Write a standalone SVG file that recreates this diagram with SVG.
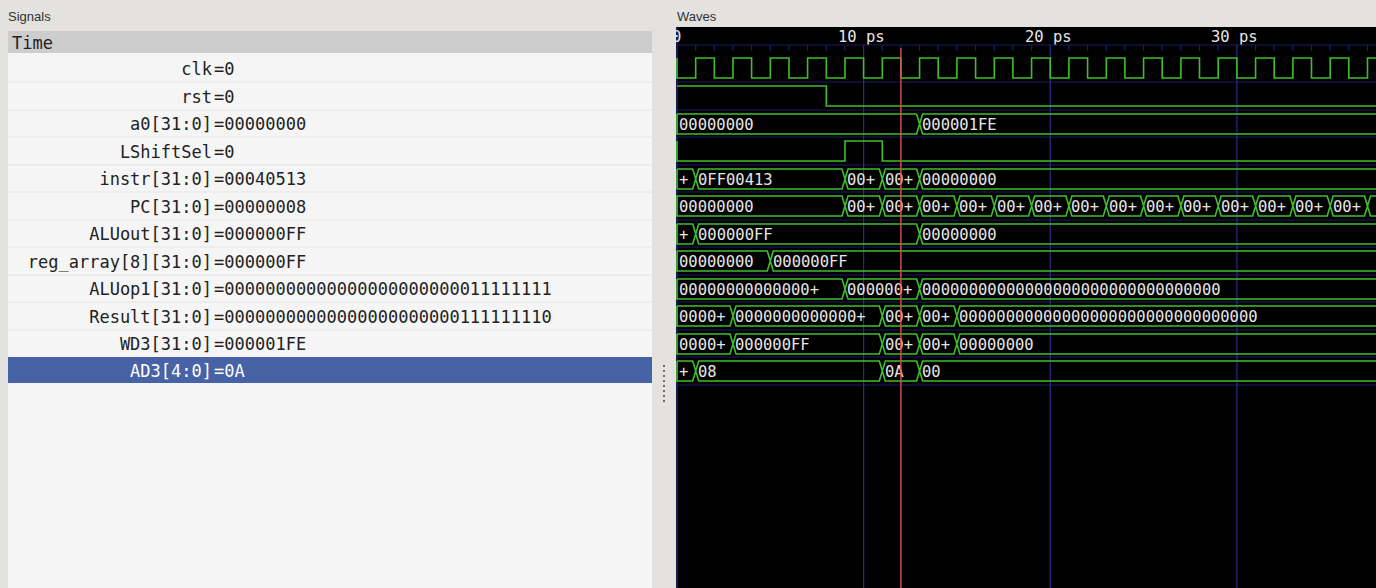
<svg xmlns="http://www.w3.org/2000/svg" width="1376" height="588" viewBox="0 0 1376 588">
<style>
.lbl{font-family:"DejaVu Sans Mono",monospace;font-size:17px;fill:#222}
.hdr{font-family:"Liberation Sans",Arial,sans-serif;font-size:13px;fill:#333}
.w{fill:none;stroke:#3fbf2a;stroke-width:1.6}
.wt{font-family:"DejaVu Sans Mono",monospace;font-size:15.5px;fill:#e6e6e6}
.sep{stroke:#1c1c66;stroke-width:1.2}
.grid{stroke:#2a2a8a;stroke-width:1.2}
.lsep{stroke:#e4e4e4;stroke-width:1}
</style>
<rect width="1376" height="588" fill="#e3e2df"/>
<text class="hdr" x="8" y="21">Signals</text>
<text class="hdr" x="677" y="21">Waves</text>
<g id="signals">
<rect x="8" y="31" width="644" height="557" fill="#f5f5f5"/>
<rect x="8" y="31" width="644" height="22" fill="#cdcdcd"/>
<text class="lbl" x="12" y="49">Time</text>
<g class="lsep">
<line x1="8" y1="82" x2="652" y2="82"/><line x1="8" y1="110" x2="652" y2="110"/><line x1="8" y1="137" x2="652" y2="137"/><line x1="8" y1="165" x2="652" y2="165"/><line x1="8" y1="192" x2="652" y2="192"/><line x1="8" y1="220" x2="652" y2="220"/><line x1="8" y1="247" x2="652" y2="247"/><line x1="8" y1="275" x2="652" y2="275"/><line x1="8" y1="302" x2="652" y2="302"/><line x1="8" y1="330" x2="652" y2="330"/>
</g>
<rect x="8" y="357" width="644" height="26" fill="#4862a6"/>
<g class="lbl" text-anchor="end">
<text x="212" y="75">clk</text><text x="212" y="103">rst</text><text x="212" y="130">a0[31:0]</text><text x="212" y="158">LShiftSel</text><text x="212" y="185">instr[31:0]</text><text x="212" y="213">PC[31:0]</text><text x="212" y="240">ALUout[31:0]</text><text x="212" y="268">reg_array[8][31:0]</text><text x="212" y="295">ALUop1[31:0]</text><text x="212" y="323">Result[31:0]</text><text x="212" y="350">WD3[31:0]</text><text x="212" y="377" fill="#fff">AD3[4:0]</text>
</g>
<g class="lbl">
<text x="214" y="75">=0</text><text x="214" y="103">=0</text><text x="214" y="130">=00000000</text><text x="214" y="158">=0</text><text x="214" y="185">=00040513</text><text x="214" y="213">=00000008</text><text x="214" y="240">=000000FF</text><text x="214" y="268">=000000FF</text><text x="214" y="295">=00000000000000000000000011111111</text><text x="214" y="323">=00000000000000000000000111111110</text><text x="214" y="350">=000001FE</text><text x="214" y="377" fill="#fff">=0A</text>
</g>
<g fill="#444"><circle cx="664" cy="366" r="1"/><circle cx="664" cy="371" r="1"/><circle cx="664" cy="376" r="1"/><circle cx="664" cy="381" r="1"/><circle cx="664" cy="386" r="1"/><circle cx="664" cy="391" r="1"/><circle cx="664" cy="396" r="1"/><circle cx="664" cy="401" r="1"/></g>
</g>
<g id="waves">
<rect x="676" y="27" width="700" height="561" fill="#000"/>
<line x1="677" y1="27" x2="677" y2="588" class="grid"/>
<g class="wt" fill="#ddd"><text x="672" y="42">0</text><text x="838" y="42">10 ps</text><text x="1025" y="42">20 ps</text><text x="1211" y="42">30 ps</text></g>
<line x1="677" y1="45" x2="1376" y2="45" class="sep"/>
<path class="sep" d="M695.7,45v6M714.3,45v6M733,45v6M751.6,45v6M770.3,45v6M789,45v6M807.6,45v6M826.3,45v6M845,45v6M882.3,45v6M900.9,45v6M919.6,45v6M938.2,45v6M956.9,45v6M975.6,45v6M994.3,45v6M1012.9,45v6M1031.6,45v6M1068.9,45v6M1087.6,45v6M1106.3,45v6M1124.9,45v6M1143.6,45v6M1162.2,45v6M1180.9,45v6M1199.5,45v6M1218.2,45v6M1255.6,45v6M1274.2,45v6M1292.9,45v6M1311.5,45v6M1330.2,45v6M1348.8,45v6M1367.5,45v6"/>
<g class="sep">
<line x1="677" y1="82" x2="1376" y2="82"/><line x1="677" y1="110" x2="1376" y2="110"/><line x1="677" y1="137" x2="1376" y2="137"/><line x1="677" y1="165" x2="1376" y2="165"/><line x1="677" y1="192" x2="1376" y2="192"/><line x1="677" y1="220" x2="1376" y2="220"/><line x1="677" y1="247" x2="1376" y2="247"/><line x1="677" y1="275" x2="1376" y2="275"/><line x1="677" y1="302" x2="1376" y2="302"/><line x1="677" y1="330" x2="1376" y2="330"/><line x1="677" y1="357" x2="1376" y2="357"/><line x1="677" y1="385" x2="1376" y2="385"/>
</g>
<g class="grid"><line x1="863.6" y1="45" x2="863.6" y2="588"/><line x1="1050.2" y1="45" x2="1050.2" y2="588"/><line x1="1236.9" y1="45" x2="1236.9" y2="588"/></g>
<path class="w" d="M677,58V78H695.7V58H714.3V78H733V58H751.6V78H770.3V58H789V78H807.6V58H826.3V78H845V58H863.6V78H882.3V58H900.9V78H919.6V58H938.2V78H956.9V58H975.6V78H994.3V58H1012.9V78H1031.6V58H1050.2V78H1068.9V58H1087.6V78H1106.3V58H1124.9V78H1143.6V58H1162.2V78H1180.9V58H1199.5V78H1218.2V58H1236.9V78H1255.6V58H1274.2V78H1292.9V58H1311.5V78H1330.2V58H1348.8V78H1367.5V58H1376"/>
<path class="w" d="M677,86H826.3V106H1380"/>
<path class="w" d="M677,141V161H845V141H882.3V161H1380"/>
<g class="w">
<path d="M677,114V134H916.6L919.6,124L922.6,114H1380M677,134H916.6M919.6,124L922.6,134H1380M916.6,114L919.6,124"/>
<path d="M677,114H916.6"/>
</g>
<g id="buses" class="w">
<!-- instr c179 -->
<path d="M677,169V189M677,189H692.7L695.7,179L692.7,169H677M695.7,179L698.7,169H842L845,179L842,189H698.7Z M845,179L848,169H879.3L882.3,179L879.3,189H848Z M882.3,179L885.3,169H916.6L919.6,179L916.6,189H885.3Z M919.6,179L922.6,169H1380M919.6,179L922.6,189H1380"/>
<!-- PC c206 -->
<path d="M677,196V216H842L845,206L842,196H677Z M845,206L848,196H879.3L882.3,206L879.3,216H848Z M882.3,206L885.3,196H916.6L919.6,206L916.6,216H885.3Z M919.6,206L922.6,196H953.9L956.9,206L953.9,216H922.6Z M956.9,206L959.9,196H991.3L994.3,206L991.3,216H959.9Z M994.3,206L997.3,196H1028.6L1031.6,206L1028.6,216H997.3Z M1031.6,206L1034.6,196H1065.9L1068.9,206L1065.9,216H1034.6Z M1068.9,206L1071.9,196H1103.3L1106.3,206L1103.3,216H1071.9Z M1106.3,206L1109.3,196H1140.6L1143.6,206L1140.6,216H1109.3Z M1143.6,206L1146.6,196H1177.9L1180.9,206L1177.9,216H1146.6Z M1180.9,206L1183.9,196H1215.2L1218.2,206L1215.2,216H1183.9Z M1218.2,206L1221.2,196H1252.6L1255.6,206L1252.6,216H1221.2Z M1255.6,206L1258.6,196H1289.9L1292.9,206L1289.9,216H1258.6Z M1292.9,206L1295.9,196H1327.2L1330.2,206L1327.2,216H1295.9Z M1330.2,206L1333.2,196H1364.5L1367.5,206L1364.5,216H1333.2Z M1367.5,206L1370.5,196H1380M1367.5,206L1370.5,216H1380"/>
<!-- ALUout c234 -->
<path d="M677,224V244H692.7L695.7,234L692.7,224H677M695.7,234L698.7,224H916.6L919.6,234L916.6,244H698.7Z M919.6,234L922.6,224H1380M919.6,234L922.6,244H1380"/>
<!-- reg c261 -->
<path d="M677,251V271H767.3L770.3,261L767.3,251H677M770.3,261L773.3,251H1380M770.3,261L773.3,271H1380"/>
<!-- ALUop1 c289 -->
<path d="M677,279V299H842L845,289L842,279H677M845,289L848,279H916.6L919.6,289L916.6,299H848Z M919.6,289L922.6,279H1380M919.6,289L922.6,299H1380"/>
<!-- Result c316 -->
<path d="M677,306V326H730L733,316L730,306H677M733,316L736,306H879.3L882.3,316L879.3,326H736Z M882.3,316L885.3,306H916.6L919.6,316L916.6,326H885.3Z M919.6,316L922.6,306H953.9L956.9,316L953.9,326H922.6Z M956.9,316L959.9,306H1380M956.9,316L959.9,326H1380"/>
<!-- WD3 c344 -->
<path d="M677,334V354H730L733,344L730,334H677M733,344L736,334H879.3L882.3,344L879.3,354H736Z M882.3,344L885.3,334H916.6L919.6,344L916.6,354H885.3Z M919.6,344L922.6,334H953.9L956.9,344L953.9,354H922.6Z M956.9,344L959.9,334H1380M956.9,344L959.9,354H1380"/>
<!-- AD3 c371 -->
<path d="M677,361V381H692.7L695.7,371L692.7,361H677M695.7,371L698.7,361H879.3L882.3,371L879.3,381H698.7Z M882.3,371L885.3,361H916.6L919.6,371L916.6,381H885.3Z M919.6,371L922.6,361H1380M919.6,371L922.6,381H1380"/>
</g>
<g class="wt">
<text x="679" y="130">00000000</text><text x="922" y="130">000001FE</text>
<text x="679" y="185">+</text><text x="698" y="185">0FF00413</text><text x="847" y="185">00+</text><text x="885" y="185">00+</text><text x="922" y="185">00000000</text>
<text x="679" y="212">00000000</text><text x="847" y="212">00+</text><text x="885" y="212">00+</text><text x="922" y="212">00+</text><text x="959" y="212">00+</text><text x="997" y="212">00+</text><text x="1034" y="212">00+</text><text x="1071" y="212">00+</text><text x="1109" y="212">00+</text><text x="1146" y="212">00+</text><text x="1183" y="212">00+</text><text x="1221" y="212">00+</text><text x="1258" y="212">00+</text><text x="1295" y="212">00+</text><text x="1333" y="212">00+</text>
<text x="679" y="240">+</text><text x="698" y="240">000000FF</text><text x="922" y="240">00000000</text>
<text x="679" y="267">00000000</text><text x="773" y="267">000000FF</text>
<text x="679" y="295">00000000000000+</text><text x="847" y="295">000000+</text><text x="922" y="295">00000000000000000000000000000000</text>
<text x="679" y="322">0000+</text><text x="735" y="322">0000000000000+</text><text x="885" y="322">00+</text><text x="922" y="322">00+</text><text x="959" y="322">00000000000000000000000000000000</text>
<text x="679" y="350">0000+</text><text x="735" y="350">000000FF</text><text x="885" y="350">00+</text><text x="922" y="350">00+</text><text x="959" y="350">00000000</text>
<text x="679" y="377">+</text><text x="698" y="377">08</text><text x="885" y="377">0A</text><text x="922" y="377">00</text>
</g>
<line x1="900.9" y1="48" x2="900.9" y2="588" stroke="#e05050" stroke-width="1.4"/>
</g>
</svg>
